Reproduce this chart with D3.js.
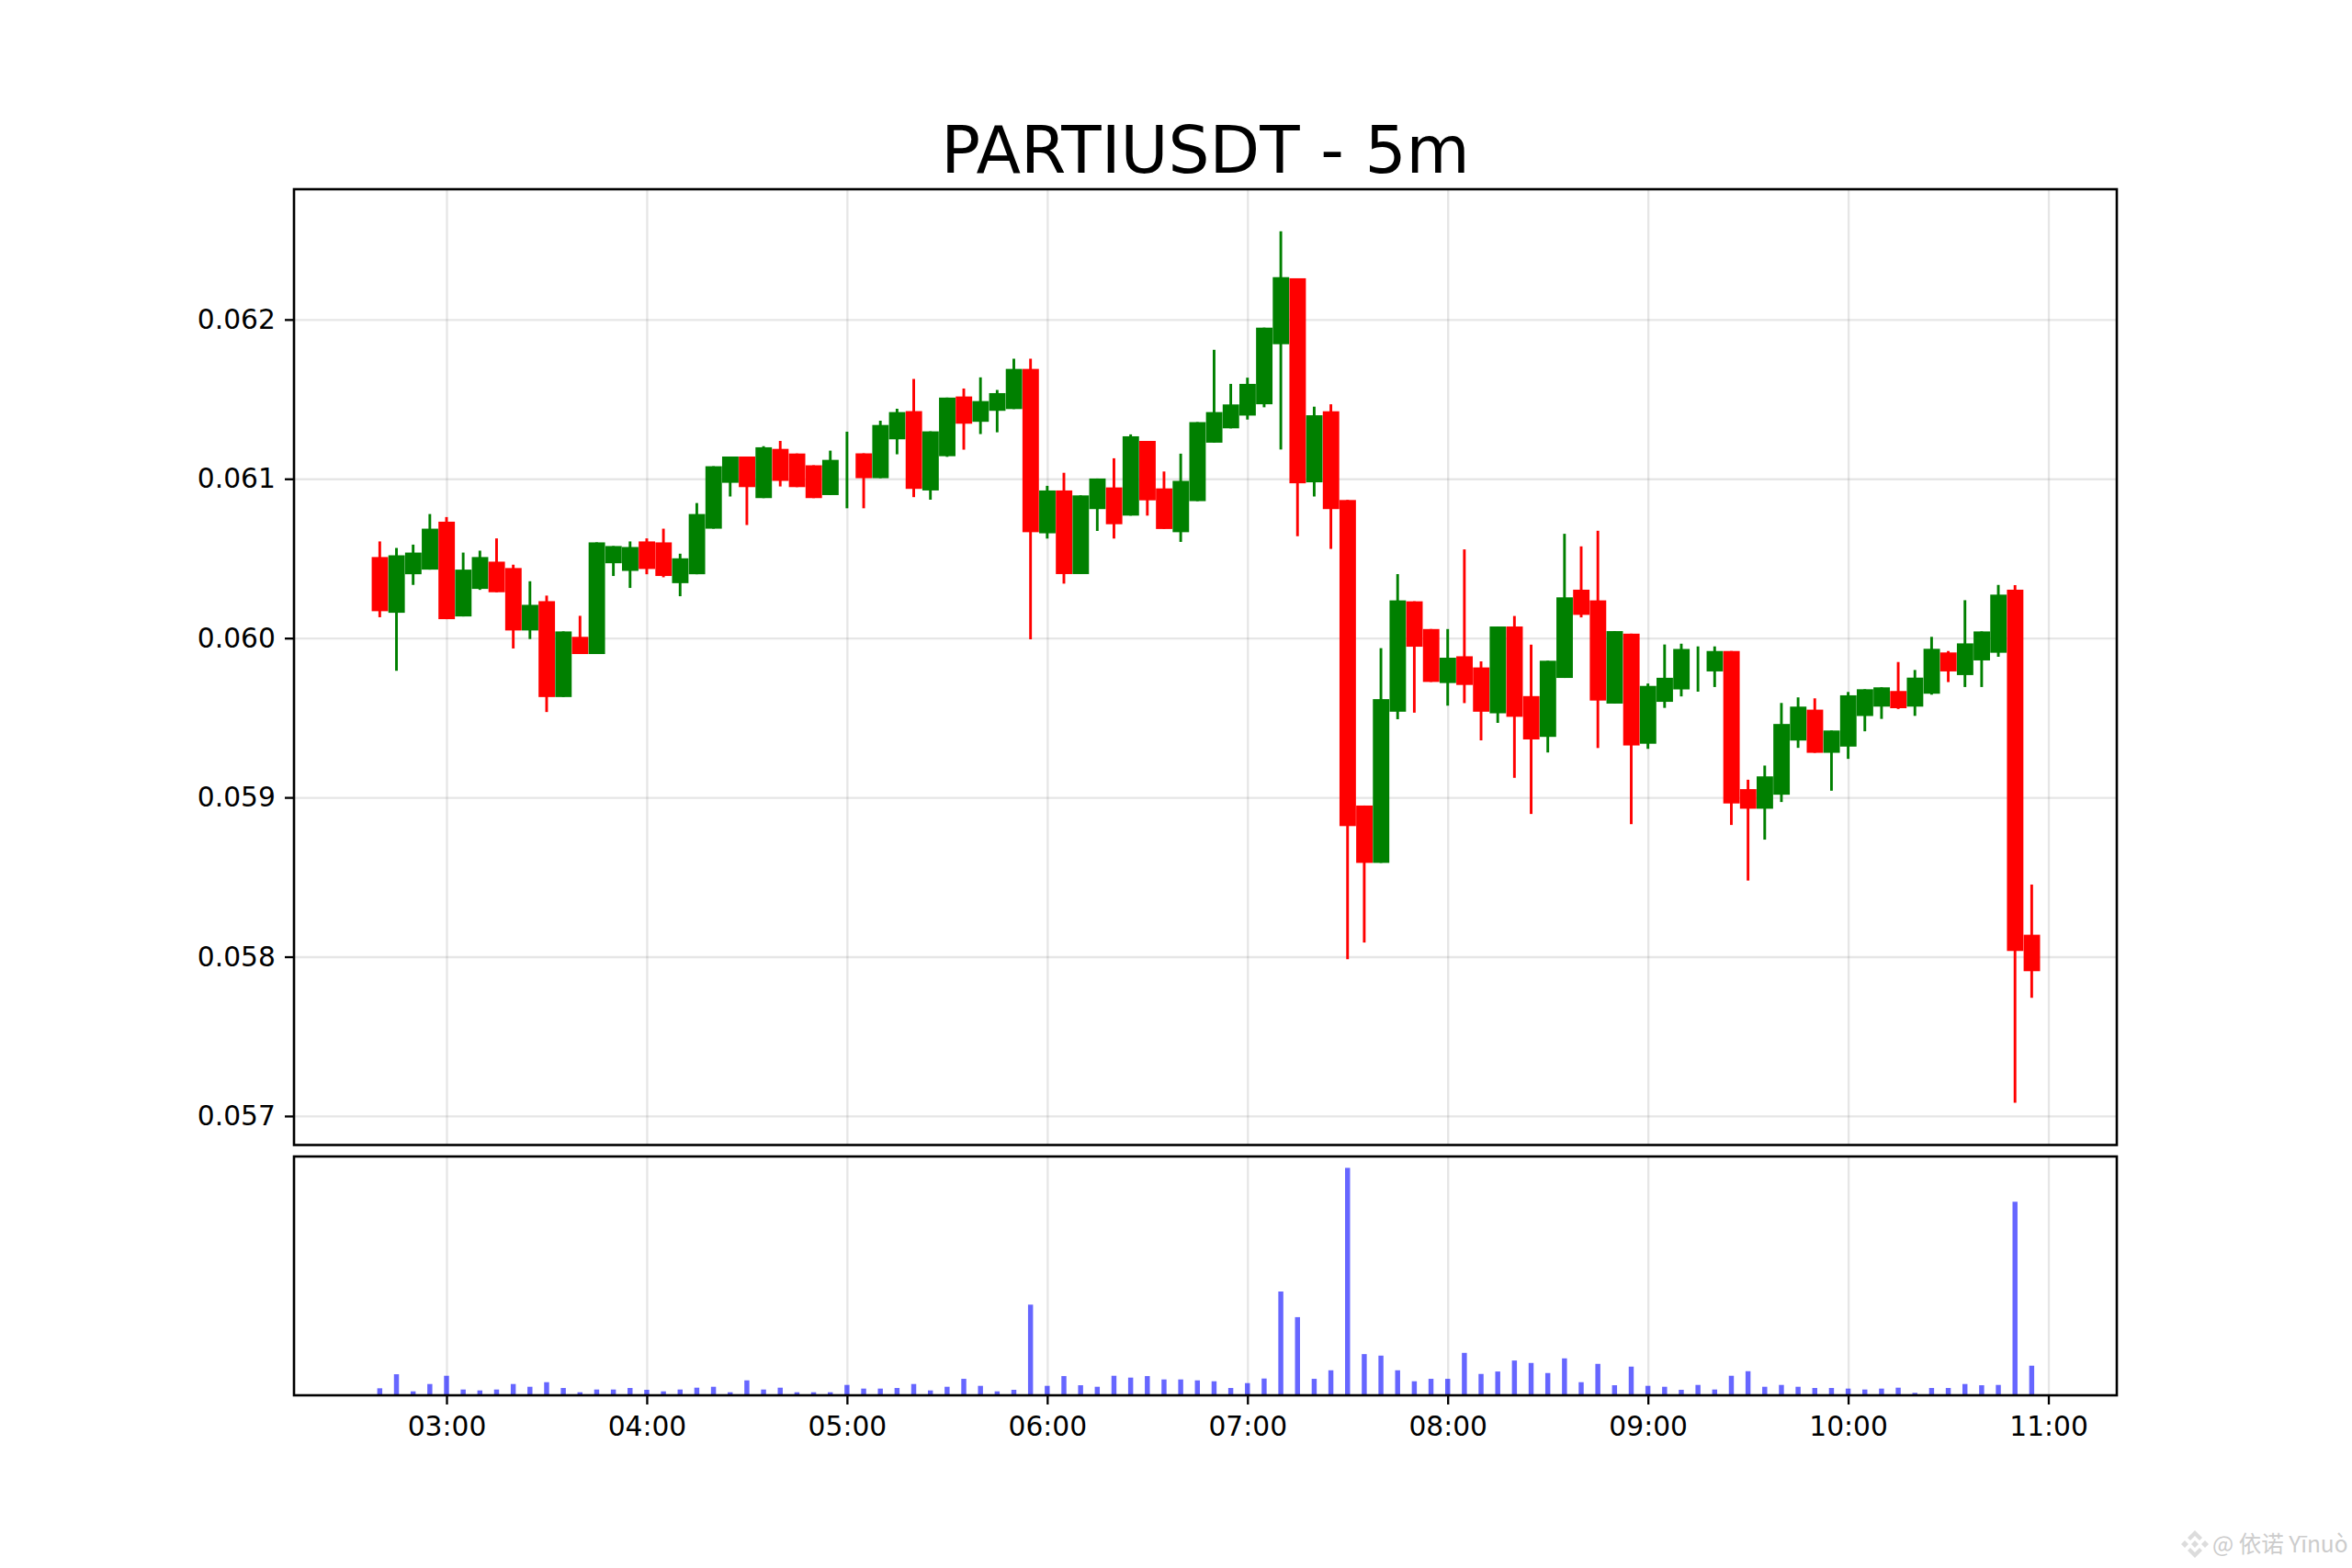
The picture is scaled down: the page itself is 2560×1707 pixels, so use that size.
<!DOCTYPE html>
<html>

<head>
  <title>PARTIUSDT - 5m</title>
  <script src="https://d3js.org/d3.v7.min.js"></script>
  <style>
    html, body { margin: 0; background: #fff; }
    svg { display: block; }
    text { font-family: "DejaVu Sans", sans-serif; fill: #000; }
    .tick line { stroke: #000; stroke-width: 2.33px; }
    .tick text { font-size: 29.7px; }
    .grid .tick line { stroke: #808080; stroke-opacity: 0.2; stroke-width: 2.33px; }
    .grid .domain, .axis .domain { display: none; }
    .frame { fill: none; stroke: #000; stroke-width: 2.6px; }
  </style>
</head>

<body>
  <div id="chart-area"></div>
  <script>
    const firstCandle = Date.UTC(2025, 0, 1, 2, 40);
    const stepMs = 5 * 60 * 1000;

    const hourTicks = [3, 4, 5, 6, 7, 8, 9, 10, 11];
    const priceTicks = [0.057, 0.058, 0.059, 0.060, 0.061, 0.062];

    const opens = [0.060509,0.060159,0.060401,0.060430,0.060731,0.060136,0.060309,0.060480,0.060440,0.060048,
      0.060232,0.059630,0.060008,0.059900,0.060470,0.060422,0.060607,0.060601,0.060345,0.060401,
      0.060687,0.060975,0.061140,0.060879,0.061188,0.061159,0.061085,0.060898,0.061119,0.061160,
      0.061004,0.061248,0.061425,0.060927,0.061142,0.061517,0.061358,0.061427,0.061438,0.061690,
      0.060658,0.060927,0.060402,0.060810,0.060946,0.060769,0.061238,0.060940,0.060665,0.060860,
      0.061227,0.061317,0.061397,0.061468,0.061845,0.062259,0.060978,0.061424,0.060867,0.058949,
      0.058589,0.059538,0.060231,0.060057,0.059718,0.059886,0.059816,0.059528,0.060073,0.059636,
      0.059380,0.059750,0.060304,0.060237,0.059589,0.060028,0.059337,0.059600,0.059678,0.059933,
      0.059791,0.059919,0.059052,0.058929,0.059017,0.059357,0.059551,0.059280,0.059319,0.059511,
      0.059570,0.059668,0.059570,0.059651,0.059910,0.059768,0.059860,0.059908,0.060304,0.058138];

    const closes = [0.060169,0.060520,0.060537,0.060687,0.060119,0.060430,0.060509,0.060288,0.060048,0.060209,
      0.059630,0.060042,0.059900,0.060601,0.060578,0.060572,0.060434,0.060390,0.060501,0.060779,
      0.061079,0.061140,0.060948,0.061198,0.060987,0.060948,0.060879,0.061119,0.061119,0.061004,
      0.061338,0.061419,0.060937,0.061298,0.061510,0.061346,0.061488,0.061538,0.061690,0.060665,
      0.060927,0.060402,0.060896,0.061002,0.060715,0.061267,0.060865,0.060685,0.060987,0.061356,
      0.061419,0.061467,0.061596,0.061949,0.062266,0.060972,0.061399,0.060810,0.058820,0.058589,
      0.059617,0.060237,0.059946,0.059725,0.059877,0.059706,0.059538,0.060073,0.059506,0.059364,
      0.059858,0.060256,0.060146,0.059608,0.060044,0.059326,0.059700,0.059751,0.059932,0.059933,
      0.059919,0.058962,0.058929,0.059132,0.059461,0.059570,0.059280,0.059420,0.059641,0.059679,
      0.059691,0.059560,0.059752,0.059933,0.059791,0.059967,0.060042,0.060273,0.058036,0.057909];

    const highs = [0.060607,0.060566,0.060587,0.060779,0.060760,0.060537,0.060549,0.060626,0.060461,0.060357,
      0.060267,0.060042,0.060140,0.060601,0.060578,0.060607,0.060626,0.060687,0.060530,0.060848,
      0.061079,0.061140,0.061140,0.061205,0.061238,0.061159,0.061085,0.061177,0.061296,0.061160,
      0.061365,0.061440,0.061627,0.061298,0.061510,0.061567,0.061637,0.061558,0.061754,0.061754,
      0.060956,0.061038,0.060896,0.061002,0.061129,0.061279,0.061238,0.061046,0.061158,0.061356,
      0.061810,0.061596,0.061635,0.061949,0.062554,0.062259,0.061453,0.061468,0.060867,0.058949,
      0.059937,0.060402,0.060231,0.060057,0.060057,0.060557,0.059854,0.060073,0.060139,0.059959,
      0.059858,0.060655,0.060576,0.060674,0.060044,0.060028,0.059715,0.059960,0.059965,0.059948,
      0.059948,0.059919,0.059111,0.059200,0.059593,0.059628,0.059622,0.059420,0.059662,0.059679,
      0.059691,0.059850,0.059800,0.060008,0.059919,0.060238,0.060042,0.060334,0.060332,0.058453];

    const lows = [0.060131,0.059795,0.060334,0.060430,0.060119,0.060136,0.060303,0.060288,0.059935,0.059994,
      0.059536,0.059630,0.059900,0.059900,0.060390,0.060315,0.060401,0.060382,0.060263,0.060401,
      0.060687,0.060889,0.060710,0.060879,0.060952,0.060948,0.060879,0.060898,0.060815,0.060815,
      0.061004,0.061154,0.060885,0.060869,0.061138,0.061183,0.061281,0.061292,0.061438,0.059992,
      0.060625,0.060342,0.060402,0.060673,0.060625,0.060769,0.060769,0.060685,0.060604,0.060860,
      0.061227,0.061317,0.061372,0.061449,0.061184,0.060639,0.060889,0.060560,0.057984,0.058089,
      0.058589,0.059491,0.059532,0.059725,0.059576,0.059592,0.059358,0.059468,0.059123,0.058896,
      0.059282,0.059750,0.060130,0.059310,0.059589,0.058832,0.059305,0.059562,0.059634,0.059664,
      0.059693,0.058827,0.058478,0.058735,0.058971,0.059311,0.059280,0.059042,0.059242,0.059415,
      0.059493,0.059555,0.059512,0.059645,0.059724,0.059693,0.059693,0.059883,0.057083,0.057742];

    const volumes = [23,69,13,37,64,19,16,19,37,28,43,24,10,19,19,24,18,13,19,25,
      28,10,49,19,25,10,10,10,34,22,22,24,37,16,28,54,31,13,18,297,
      31,63,33,28,64,58,63,52,52,49,46,24,40,55,340,256,54,82,745,135,
      130,82,46,54,54,139,70,78,114,106,73,121,43,103,33,94,31,28,18,34,
      19,64,79,28,34,28,24,24,22,19,22,25,8,24,24,37,33,34,634,97];

    const width = 2560;
    const height = 1707;
    const left = 320, right = 2304;
    const priceTop = 206, priceBottom = 1246.5;
    const volTop = 1259, volBottom = 1519;

    const candles = opens.map((open, i) => ({
      time: new Date(firstCandle + i * stepMs),
      open, close: closes[i], high: highs[i], low: lows[i], volume: volumes[i]
    }));

    const svg = d3.select("#chart-area")
      .append("svg")
        .attr("width", width)
        .attr("height", height);

    const x = d3.scaleTime()
      .domain([new Date(firstCandle - 25.7 * 60000), new Date(firstCandle + 99 * stepMs + 25.5 * 60000)])
      .range([left, right]);

    const y = d3.scaleLinear().domain([0.056818, 0.062818]).range([priceBottom, priceTop]);

    const yVol = d3.scaleLinear()
      .domain([0, d3.max(volumes) * 1.05])
      .range([volBottom, volTop]);

    const xTickValues = hourTicks.map(h => new Date(Date.UTC(2025, 0, 1, h)));
    const bodyWidth = x(new Date(firstCandle + stepMs)) - x(new Date(firstCandle));
    const color = d => d.close < d.open ? "#ff0000" : "#008000";

    // grids go under the marks
    svg.append("g").attr("class", "grid")
      .attr("transform", `translate(0,${priceBottom})`)
      .call(d3.axisBottom(x).tickValues(xTickValues).tickSize(priceTop - priceBottom).tickFormat(""));
    svg.append("g").attr("class", "grid")
      .attr("transform", `translate(${left},0)`)
      .call(d3.axisLeft(y).tickValues(priceTicks).tickSize(left - right).tickFormat(""));
    svg.append("g").attr("class", "grid")
      .attr("transform", `translate(0,${volBottom})`)
      .call(d3.axisBottom(x).tickValues(xTickValues).tickSize(volTop - volBottom).tickFormat(""));

    // wicks
    svg.append("g").selectAll("line")
      .data(candles)
      .join("line")
        .attr("x1", d => x(d.time))
        .attr("x2", d => x(d.time))
        .attr("y1", d => y(d.high))
        .attr("y2", d => y(d.low))
        .attr("stroke", color)
        .attr("stroke-width", 2.92);

    // bodies
    svg.append("g").selectAll("rect")
      .data(candles)
      .join("rect")
        .attr("x", d => x(d.time) - bodyWidth / 2 + 0.3)
        .attr("width", bodyWidth * 0.985)
        .attr("y", d => y(Math.max(d.open, d.close)))
        .attr("height", d => Math.abs(y(d.open) - y(d.close)))
        .attr("fill", color);

    // volume
    svg.append("g").selectAll("rect")
      .data(candles)
      .join("rect")
        .attr("x", d => x(d.time) - bodyWidth * 0.15)
        .attr("width", bodyWidth * 0.3)
        .attr("y", d => yVol(d.volume))
        .attr("height", d => yVol(0) - yVol(d.volume))
        .attr("fill", "#0000ff")
        .attr("fill-opacity", 0.6);

    svg.append("g").attr("class", "axis")
      .attr("transform", `translate(${left},0)`)
      .call(d3.axisLeft(y).tickValues(priceTicks).tickSize(10).tickPadding(10.2).tickFormat(d3.format(".3f")));

    svg.append("g").attr("class", "axis")
      .attr("transform", `translate(0,${volBottom})`)
      .call(d3.axisBottom(x).tickValues(xTickValues).tickSize(10).tickPadding(12.5).tickFormat(d3.utcFormat("%H:%M")));

    svg.append("rect").attr("class", "frame")
      .attr("x", left).attr("y", priceTop)
      .attr("width", right - left).attr("height", priceBottom - priceTop);
    svg.append("rect").attr("class", "frame")
      .attr("x", left).attr("y", volTop)
      .attr("width", right - left).attr("height", volBottom - volTop);

    svg.append("text")
      .attr("x", (left + right) / 2)
      .attr("y", 187.5)
      .attr("text-anchor", "middle")
      .style("font-size", "71px")
      .text("PARTIUSDT - 5m");

    // watermark, bottom right
    const mark = svg.append("g").attr("transform", "translate(2389,1681)").attr("fill", "#dcdcdc");
    mark.append("path").attr("d", "M0 -15L8 -7L5 -4L0 -9L-5 -4L-8 -7Z");
    mark.append("path").attr("d", "M0 15L8 7L5 4L0 9L-5 4L-8 7Z");
    mark.append("path").attr("d", "M0 -4L4 0L0 4L-4 0Z");
    mark.append("path").attr("d", "M-11 -4L-7 0L-11 4L-15 0Z");
    mark.append("path").attr("d", "M11 -4L15 0L11 4L7 0Z");
    svg.append("text")
      .attr("x", 2408)
      .attr("y", 1690)
      .style("font-family", "'Noto Sans CJK SC', 'DejaVu Sans', sans-serif")
      .style("font-size", "24.5px")
      .style("fill", "#cccccc")
      .text("@ 依诺 Yīnuò");
  </script>
</body>

</html>
